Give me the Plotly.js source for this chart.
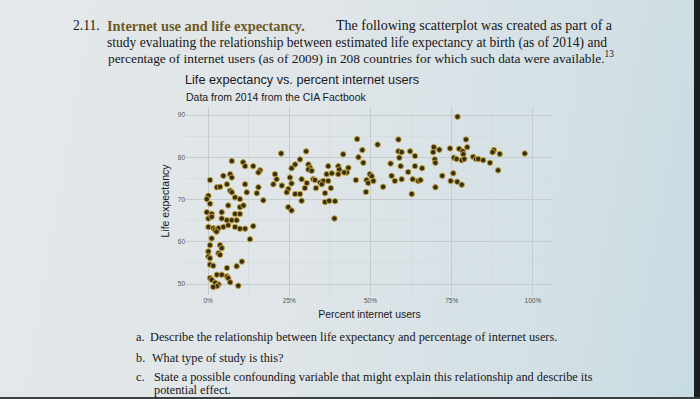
<!DOCTYPE html>
<html><head><meta charset="utf-8">
<script src="https://cdn.plot.ly/plotly-3.0.1.min.js"></script>
<style>
html,body{margin:0;padding:0;}
body{width:700px;height:399px;overflow:hidden;background:linear-gradient(100deg,#e4e8ea 0%,#dfe5e8 45%,#d2e0e5 80%,#c6dbe2 100%);}
#chart{width:700px;height:399px;}
</style></head><body><div id="chart"></div>
<script>
// Percent internet users (x) and life expectancy (y)
const internetPct = [
 22.5,28.3,26.8,25.7,7.3,10.8,11.4,13.9,16,15.5,20.6,21.1,20.1,22.7,25.2,25.7,24.7,24.2,26.8,28.3,
 28.8,24.7,25.7,4.7,6.8,7.3,0.6,2.7,3.7,5.8,6.8,7.3,11.4,11.9,15.5,15,0.1,-0.4,8.3,9.8,
 6.2,0.6,9.8,10.9,17,-0.4,1.1,4.2,8.3,9.8,
 0.1,1.1,4.2,5.8,7.3,8.8,0.1,1.6,2.1,3.2,2.6,4.7,6.2,8.3,9.8,11.4,13.9,12.9,1.1,0.6,
 3.7,4.2,3.2,3.7,0.1,0.1,0.6,0.6,1.6,8.8,10.4,5.8,2.7,4.2,5.8,6.2,0.6,1.1,6.8,2.2,
 3.2,2.7,1.6,9.3,
 45.9,52.2,58.6,41.6,30.2,47.5,46.3,47.8,58.6,59.6,58.9,62.2,63.7,56.2,59.3,63.7,61.6,30.9,31.4,30.9,
 31.9,37,40.1,40.4,43.2,42.7,41.9,36.5,38.1,40.1,28.8,30.4,32.4,32.9,34.5,35.5,35,37,37.8,33.2,
 29.8,45.5,48.8,49.8,50.4,50.9,49.3,53.9,48.6,56.5,57.5,59.6,63,64.7,62.7,36,36,37.3,39.1,38.9,
 76.8,79.4,79.8,77.3,78.4,78.6,74.5,69.5,71.2,69.3,69.8,70,75.7,76.5,78.1,78.9,81.6,82.5,83.2,84.7,
 86.8,88,87.6,89.8,97.5,89.3,65.9,65.4,72.1,75.5,74.7,76.7,78.1,70
];
const lifeExpectancy = [
 80.9,79.5,78.3,77.4,79.1,78.8,77.9,77.9,76.9,76.4,76,74.8,73.6,73.3,75.2,73.8,72.5,71.7,71.3,71.3,
 69.7,68.2,67.4,75.6,76,75.2,74.6,72.9,73,73.6,72.1,71.7,73.6,71.7,72.9,71.5,70.9,70.1,70.5,70.1,
 68.6,69,68.2,68.6,69.8,67,66.6,67,66.6,66.6,
 65.5,65.9,65.5,65.1,65.1,65.1,63.5,63.2,62.8,63.2,62.4,63.5,63.9,63.5,63.1,63.1,63.7,60.6,60.8,59.2,
 59.2,58.5,57.3,56.9,57.7,56.5,56.1,54.6,54.3,54.2,55.3,53.8,52.2,52.2,51.8,51.4,51.4,51,50.4,50.3,
 49.9,49.5,49.3,49.6,
 84.3,83,84.2,80.7,81.4,81.7,80,78.7,81.4,81.2,79.9,81.4,80.3,78.5,77.9,77.9,76.5,78.3,77.5,77.1,
 76.8,77.9,77.9,77.1,77.5,76.4,76.4,76,76.2,76,74.8,73.9,74.8,74.6,74,74.4,73.6,74.4,72.7,72.7,
 72.7,74.6,74.6,76,75.5,74.4,73.9,73,71.8,75.6,74.4,74.8,74.8,74.4,71.3,71.5,69.4,69.7,69.6,65.5,
 89.6,84.2,82.4,82,81.4,80.7,82.1,82.4,81.8,81.2,79.5,78.7,79.9,79.6,79.3,79.6,80.1,79.6,79.6,79.3,
 78.7,81.7,81.2,80.8,80.9,76.9,77.4,74.6,75.6,76.2,74.4,74.2,73.5,72.9
];
const xTickVals = [0,25,50,75,100];
const xTickText = ['0%','25%','50%','75%','100%'];
const yTickVals = [50,60,70,80,90];

const chartTitle = 'Life expectancy vs. percent internet users';
const chartSubtitle = 'Data from 2014 from the CIA Factbook';
const xTitle = 'Percent internet users';
const yTitle = 'Life expectancy';
const exNum = '2.11.';
const exHead = '<b><span style="color:#6e5a26">Internet use and life expectancy.</span></b>';
const exLine1 = 'The following scatterplot was created as part of a';
const exLine2 = 'study evaluating the relationship between estimated life expectancy at birth (as of 2014) and';
const exLine3 = 'percentage of internet users (as of 2009) in 208 countries for which such data were available.<sup>13</sup>';
const qLabels = ['a.','b.','c.',''];
const qTexts = ['Describe the relationship between life expectancy and percentage of internet users.',
 'What type of study is this?',
 'State a possible confounding variable that might explain this relationship and describe its',
 'potential effect.'];

const plotL=186, plotR=553, plotT=107, plotB=295;
const px = x => (x-plotL)/(plotR-plotL);
const py = y => (plotB-y)/(plotB-plotT);
const serif = 'Liberation Serif, DejaVu Serif, serif';
const sans = 'Liberation Sans, Arial, sans-serif';
const ink = '#161616';

function ann(text, x, y, size, family, color, extra){
  return Object.assign({text, x:px(x), y:py(y), xref:'paper', yref:'paper', xanchor:'left', yanchor:'middle',
    showarrow:false, font:{size, family, color}}, extra||{});
}
const annotations = [
  ann(exNum, 71, 26, 13.6, serif, ink),
  ann(exHead, 105, 26, 14.4, serif, ink),
  ann(exLine1, 615, 26, 14.0, serif, ink, {xanchor:'right'}),
  ann(exLine2, 105, 43, 13.55, serif, ink),
  ann(exLine3, 106, 57, 13.35, serif, ink),
  ann(chartTitle, 183, 79.5, 12.7, sans, '#1a1a1a'),
  ann(chartSubtitle, 184, 97, 10.5, sans, '#1a1a1a'),
];
const qY = [337, 357.5, 377, 390];
const qX = [148, 150, 152, 152];
for (let i=0;i<qTexts.length;i++){
  if (qLabels[i]) annotations.push(ann(qLabels[i], 134, qY[i], 12.3, serif, ink));
  annotations.push(ann(qTexts[i], qX[i], qY[i], 12.3, serif, ink));
}

const grid = '#c6ccce';
const layout = {
  width:700, height:399,
  margin:{l:plotL, r:700-plotR, t:plotT, b:399-plotB},
  paper_bgcolor:'rgba(0,0,0,0)', plot_bgcolor:'rgba(0,0,0,0)',
  showlegend:false,
  xaxis:{range:[-6.8,106.2], tickvals:xTickVals, ticktext:xTickText, showgrid:true, gridcolor:grid, gridwidth:1,
    zeroline:false, showline:false, ticks:'', tickfont:{size:6.5, family:sans, color:'#555'},
    minor:{dtick:12.5, tick0:0, showgrid:true, gridcolor:'#d2d8da', gridwidth:0.6},
    title:{text:xTitle, font:{size:10.5, family:sans, color:'#1a1a1a'}, standoff:8}},
  yaxis:{range:[47.4,91.9], tickvals:yTickVals, showgrid:true, gridcolor:grid, gridwidth:1,
    zeroline:false, showline:false, ticks:'', tickfont:{size:6.5, family:sans, color:'#555'},
    minor:{dtick:5, tick0:0, showgrid:true, gridcolor:'#d2d8da', gridwidth:0.6},
    title:{text:yTitle, font:{size:10.5, family:sans, color:'#1a1a1a'}, standoff:6}},
  annotations,
  shapes:[
    {type:'rect', xref:'paper', yref:'paper', x0:px(694), x1:px(701), y0:py(-1), y1:py(400), fillcolor:'#1b1f22', line:{width:0}, layer:'above'},
    {type:'rect', xref:'paper', yref:'paper', x0:px(-1), x1:px(701), y0:py(397), y1:py(400), fillcolor:'#3a3f42', line:{width:0}, layer:'above'}
  ]
};
const trace = {type:'scatter', mode:'markers', x:internetPct, y:lifeExpectancy,
  marker:{size:5.5, color:'#352f14', line:{color:'#c9a63a', width:1}}, hoverinfo:'skip'};
Plotly.newPlot('chart', [trace], layout, {staticPlot:true, displayModeBar:false});
</script></body></html>
